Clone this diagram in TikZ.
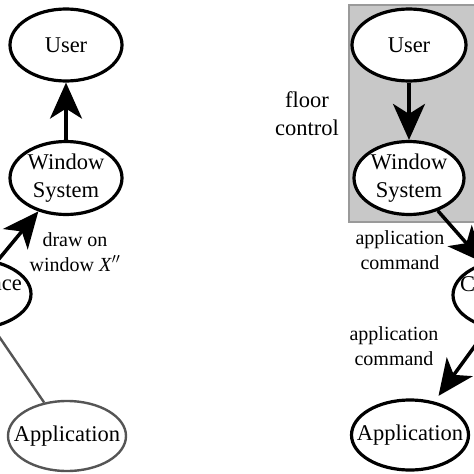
\documentclass[tikz,border=0pt]{standalone}
\usepackage{fontspec}
\setmainfont{Liberation Serif}
\usetikzlibrary{arrows.meta,shapes.geometric}
\definecolor{boxfill}{HTML}{C8C8C8}
\definecolor{boxedge}{HTML}{9A9A9A}
\definecolor{dimline}{HTML}{555555}
\begin{document}
\begin{tikzpicture}[x=1pt,y=-1pt,
  ell/.style={ellipse, draw=black, line width=3.2pt, fill=white, inner xsep=-12pt, inner ysep=0pt,
    align=center, font=\fontsize{22.5}{28}\selectfont},
  grayell/.style={ell, draw=dimline, line width=2.4pt},
  lbl/.style={align=center, font=\fontsize{20}{24.5}\selectfont, inner sep=0pt},
  biglbl/.style={align=center, font=\fontsize{22.5}{28}\selectfont, inner sep=0pt},
  arr/.style={line width=3.5pt, -{Stealth[length=36pt,width=32pt,inset=10pt]}},
  dimconn/.style={line width=2.4pt, draw=dimline},
]
\useasboundingbox (0,0) rectangle (474,474);
\clip (0,0) rectangle (474,474);

% shaded floor-control region (right panel)
\path[fill=boxfill, draw=boxedge, line width=2pt] (349,5) rectangle (490,222);

% left panel
\node[ell, minimum width=112pt, minimum height=72pt] (userL) at (66,45) {User};
\node[ell, minimum width=112pt, minimum height=73pt] (wsL) at (66,178) {Window\\System};
\node[ell, minimum width=122pt, minimum height=70pt, text height=10pt, text depth=18pt] (confL) at (-30,294) {Conference};
\node[grayell, minimum width=118pt, minimum height=70pt] (appL) at (67,436) {Application};

\draw[arr] (wsL) -- (userL);
\draw[arr] (confL) -- (wsL);
\draw[dimconn] (confL) -- (appL);
\node[lbl] (drawlbl) at (75,252) {draw on\\window \textit{X}$''$};

% right panel
\node[ell, minimum width=114pt, minimum height=72pt] (userR) at (409,45) {User};
\node[ell, minimum width=110pt, minimum height=73pt] (wsR) at (409,178) {Window\\System};
\node[ell, minimum width=118pt, minimum height=70pt, text height=10pt, text depth=18pt] (confR) at (512,295) {Conference};
\node[ell, minimum width=117pt, minimum height=70pt] (appR) at (410,435) {Application};

\draw[arr] (userR) -- (wsR);
\draw[arr] (wsR) -- (confR);
\draw[arr, shorten >=7pt] (confR) -- (appR);

\node[biglbl] (floorlbl) at (307,114) {floor\\control};
\node[lbl] (cmdlbl1) at (400,250) {application\\command};
\node[lbl] (cmdlbl2) at (394,346) {application\\command};
\end{tikzpicture}
\end{document}
